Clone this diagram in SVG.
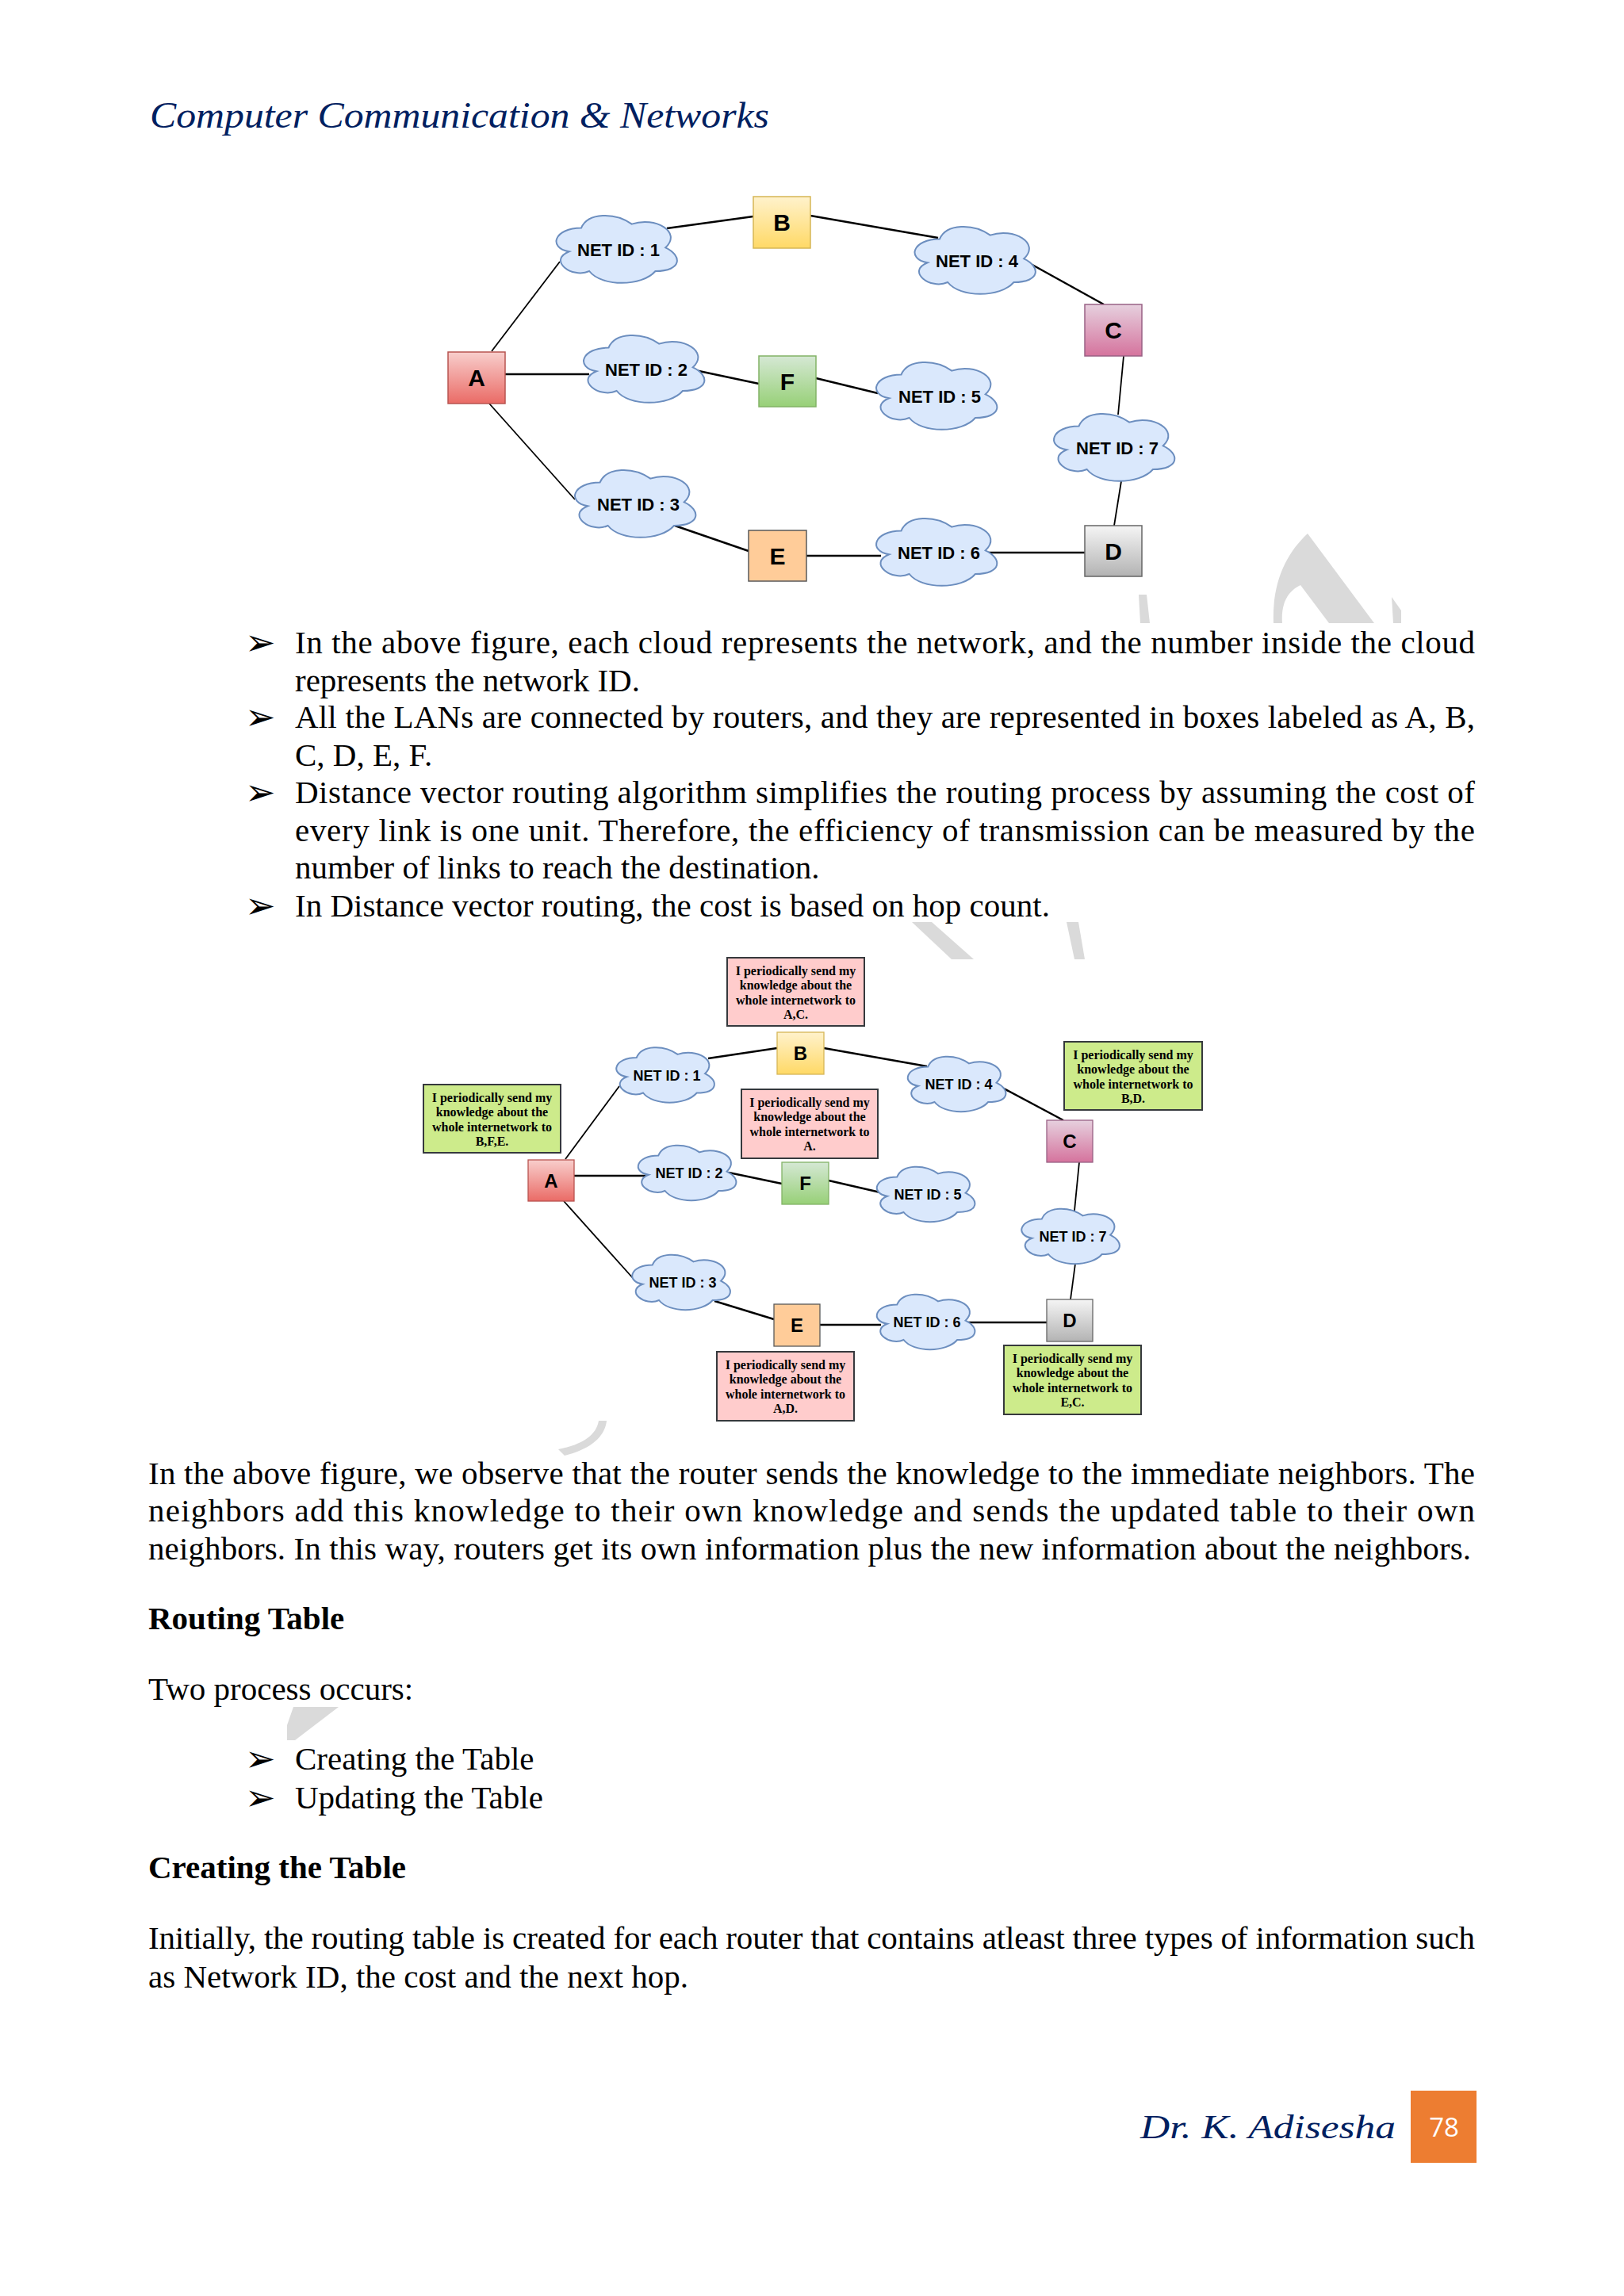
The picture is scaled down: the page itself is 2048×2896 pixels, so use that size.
<svg xmlns="http://www.w3.org/2000/svg" xmlns:xlink="http://www.w3.org/1999/xlink" width="2048" height="2896" viewBox="0 0 2048 2896">
<defs>
<linearGradient id="gA" x1="0" y1="0" x2="0" y2="1"><stop offset="0" stop-color="#f8cecc"/><stop offset="1" stop-color="#ea6b66"/></linearGradient>
<linearGradient id="gB" x1="0" y1="0" x2="0" y2="1"><stop offset="0" stop-color="#fff2cc"/><stop offset="1" stop-color="#ffd966"/></linearGradient>
<linearGradient id="gC" x1="0" y1="0" x2="0" y2="1"><stop offset="0" stop-color="#e6d0de"/><stop offset="1" stop-color="#d5739d"/></linearGradient>
<linearGradient id="gD" x1="0" y1="0" x2="0" y2="1"><stop offset="0" stop-color="#f5f5f5"/><stop offset="1" stop-color="#b3b3b3"/></linearGradient>
<linearGradient id="gF" x1="0" y1="0" x2="0" y2="1"><stop offset="0" stop-color="#d5e8d4"/><stop offset="1" stop-color="#97d077"/></linearGradient>
<path id="cloud" vector-effect="non-scaling-stroke" d="M25,25 C5,25 0,50 16,55 C0,66 18,90 31,80 C40,100 70,100 80,80 C100,80 100,60 87.5,50 C100,30 80,10 62.5,20 C50,5 30,5 25,25 Z"/>
<style>
.body{font-family:"Liberation Serif","Times New Roman",serif;font-size:41px;fill:#000}
.bold{font-weight:bold}
.bul{font-family:"DejaVu Sans",sans-serif;font-size:46px;fill:#000}
.head{font-family:"Liberation Serif",serif;font-style:italic;fill:#002060}
.cl{fill:#dae8fc;stroke:#6c8ebf;stroke-width:2}
.cl1{font-family:"Liberation Sans",Arial,sans-serif;font-weight:bold;font-size:22px;fill:#000;text-anchor:middle}
.cl2{font-family:"Liberation Sans",Arial,sans-serif;font-weight:bold;font-size:18px;fill:#000;text-anchor:middle}
.bx1{font-family:"Liberation Sans",Arial,sans-serif;font-weight:bold;font-size:30px;fill:#000;text-anchor:middle}
.bx2{font-family:"Liberation Sans",Arial,sans-serif;font-weight:bold;font-size:24px;fill:#000;text-anchor:middle}
.edge{stroke:#000;stroke-width:2.5;fill:none}
.thin{stroke-width:1.8}
.note{font-family:"Liberation Serif","Times New Roman",serif;font-weight:bold;font-size:16px;fill:#000;text-anchor:middle}
.np{fill:#ffcccc;stroke:#36393d;stroke-width:2}
.ng{fill:#cdeb8b;stroke:#36393d;stroke-width:2}
.wm{fill:#dadada}
</style>
</defs>
<rect width="2048" height="2896" fill="#ffffff"/>

<g id="watermark" class="wm">
<path fill-rule="evenodd" d="M1606,786 C1604,735 1622,698 1649,673 L1733,786 Z M1617,786 C1615,760 1625,745 1640,738 L1676,786 Z"/>
<path d="M1755,753 L1767,770 L1767,786 L1757,786 Z"/>
<path d="M1436,750 L1446,750 L1450,786 L1438,786 Z"/>
<path d="M1150,1163 L1175,1163 L1228,1210 L1200,1210 Z"/>
<path d="M1345,1163 L1360,1163 L1368,1210 L1355,1210 Z"/>
<path d="M755,1792 L765,1792 C763,1812 745,1828 712,1836 L704,1828 C735,1822 752,1810 755,1792 Z"/>
<path d="M370,2153 L427,2153 L372,2195 L362,2195 L362,2176 Z"/>
</g>

<g id="header">
<text class="head" x="189" y="161" font-size="46" textLength="781" lengthAdjust="spacingAndGlyphs">Computer Communication &amp; Networks</text>
</g>

<!-- Diagram 1 -->
<g id="connectors1">
<line class="edge thin" x1="620" y1="443" x2="706" y2="330"/>
<line class="edge" x1="841" y1="288" x2="950" y2="273"/>
<line class="edge" x1="1022" y1="272" x2="1183" y2="300"/>
<line class="edge" x1="1300" y1="333" x2="1392" y2="384"/>
<line class="edge" x1="637" y1="472" x2="743" y2="472"/>
<line class="edge" x1="872" y1="466" x2="957" y2="484"/>
<line class="edge" x1="1029" y1="477" x2="1107" y2="496"/>
<line class="edge thin" x1="1417" y1="449" x2="1410" y2="523"/>
<line class="edge thin" x1="1414" y1="607" x2="1405" y2="663"/>
<line class="edge thin" x1="617" y1="509" x2="725" y2="630"/>
<line class="edge" x1="851" y1="663" x2="944" y2="695"/>
<line class="edge" x1="1017" y1="701" x2="1111" y2="701"/>
<line class="edge" x1="1245" y1="697" x2="1368" y2="697"/>
</g>

<g id="d1-net1"><use class="cl" xlink:href="#cloud" transform="translate(690.5,262.8) scale(1.70,0.99)"/><text class="cl1" x="780" y="322.5">NET ID : 1</text></g>
<g id="d1-net4"><use class="cl" xlink:href="#cloud" transform="translate(1142.5,276.8) scale(1.70,0.99)"/><text class="cl1" x="1232" y="336.5">NET ID : 4</text></g>
<g id="d1-net2"><use class="cl" xlink:href="#cloud" transform="translate(725,413.8) scale(1.70,0.99)"/><text class="cl1" x="815" y="473.5">NET ID : 2</text></g>
<g id="d1-net5"><use class="cl" xlink:href="#cloud" transform="translate(1094,447.8) scale(1.70,0.99)"/><text class="cl1" x="1185" y="507.5">NET ID : 5</text></g>
<g id="d1-net7"><use class="cl" xlink:href="#cloud" transform="translate(1318,512.8) scale(1.70,0.99)"/><text class="cl1" x="1409" y="572.5">NET ID : 7</text></g>
<g id="d1-net3"><use class="cl" xlink:href="#cloud" transform="translate(714,583.8) scale(1.70,0.99)"/><text class="cl1" x="805" y="643.5">NET ID : 3</text></g>
<g id="d1-net6"><use class="cl" xlink:href="#cloud" transform="translate(1094,644.8) scale(1.70,0.99)"/><text class="cl1" x="1184" y="704.5">NET ID : 6</text></g>

<g id="d1-A"><rect x="565" y="444" width="72" height="65" fill="url(#gA)" stroke="#b85450" stroke-width="1.5"/><text class="bx1" x="601" y="487">A</text></g>
<g id="d1-B"><rect x="950" y="248" width="72" height="65" fill="url(#gB)" stroke="#d6b656" stroke-width="1.5"/><text class="bx1" x="986" y="291">B</text></g>
<g id="d1-C"><rect x="1368" y="384" width="72" height="65" fill="url(#gC)" stroke="#996185" stroke-width="1.5"/><text class="bx1" x="1404" y="427">C</text></g>
<g id="d1-D"><rect x="1368" y="663" width="72" height="64" fill="url(#gD)" stroke="#666666" stroke-width="1.5"/><text class="bx1" x="1404" y="706">D</text></g>
<g id="d1-E"><rect x="944" y="669" width="73" height="64" fill="#ffcc99" stroke="#5a5a5a" stroke-width="1.5"/><text class="bx1" x="980.5" y="712">E</text></g>
<g id="d1-F"><rect x="957" y="449" width="72" height="64" fill="url(#gF)" stroke="#82b366" stroke-width="1.5"/><text class="bx1" x="993" y="492">F</text></g>

<!-- Bullets -->
<g id="bullets1">
<text class="bul" x="309" y="826">➢</text>
<text class="body" x="372" y="824" textLength="1488" lengthAdjust="spacing">In the above figure, each cloud represents the network, and the number inside the cloud</text>
<text class="body" x="372" y="872">represents the network ID.</text>
<text class="bul" x="309" y="920">➢</text>
<text class="body" x="372" y="918" textLength="1488" lengthAdjust="spacing">All the LANs are connected by routers, and they are represented in boxes labeled as A, B,</text>
<text class="body" x="372" y="966">C, D, E, F.</text>
<text class="bul" x="309" y="1015">➢</text>
<text class="body" x="372" y="1013" textLength="1488" lengthAdjust="spacing">Distance vector routing algorithm simplifies the routing process by assuming the cost of</text>
<text class="body" x="372" y="1061" textLength="1488" lengthAdjust="spacing">every link is one unit. Therefore, the efficiency of transmission can be measured by the</text>
<text class="body" x="372" y="1108">number of links to reach the destination.</text>
<text class="bul" x="309" y="1158">➢</text>
<text class="body" x="372" y="1156">In Distance vector routing, the cost is based on hop count.</text>
</g>

<!-- Diagram 2 -->
<g id="connectors2">
<line class="edge thin" x1="713" y1="1462" x2="781" y2="1370"/>
<line class="edge" x1="893" y1="1335" x2="980" y2="1322"/>
<line class="edge" x1="1039" y1="1322" x2="1169" y2="1345"/>
<line class="edge" x1="1264" y1="1372" x2="1341" y2="1413"/>
<line class="edge" x1="724" y1="1483" x2="814" y2="1483"/>
<line class="edge" x1="919" y1="1479" x2="986" y2="1493"/>
<line class="edge" x1="1045" y1="1489" x2="1110" y2="1504"/>
<line class="edge thin" x1="1361" y1="1466" x2="1355" y2="1527"/>
<line class="edge thin" x1="1356" y1="1594" x2="1350" y2="1639"/>
<line class="edge thin" x1="711" y1="1515" x2="798" y2="1612"/>
<line class="edge" x1="901" y1="1641" x2="976" y2="1664"/>
<line class="edge" x1="1034" y1="1671" x2="1111" y2="1671"/>
<line class="edge" x1="1221" y1="1668" x2="1320" y2="1668"/>
</g>

<g id="d2-net1"><use class="cl" xlink:href="#cloud" transform="translate(768.3,1313.7) scale(1.38,0.81)"/><text class="cl2" x="841" y="1362.5">NET ID : 1</text></g>
<g id="d2-net4"><use class="cl" xlink:href="#cloud" transform="translate(1135.8,1325.2) scale(1.38,0.81)"/><text class="cl2" x="1209" y="1374">NET ID : 4</text></g>
<g id="d2-net2"><use class="cl" xlink:href="#cloud" transform="translate(795.8,1437.2) scale(1.38,0.81)"/><text class="cl2" x="869" y="1486">NET ID : 2</text></g>
<g id="d2-net5"><use class="cl" xlink:href="#cloud" transform="translate(1096.8,1464.2) scale(1.38,0.81)"/><text class="cl2" x="1170" y="1513">NET ID : 5</text></g>
<g id="d2-net7"><use class="cl" xlink:href="#cloud" transform="translate(1279.3,1517.2) scale(1.38,0.81)"/><text class="cl2" x="1353" y="1566">NET ID : 7</text></g>
<g id="d2-net3"><use class="cl" xlink:href="#cloud" transform="translate(788.3,1575.2) scale(1.38,0.81)"/><text class="cl2" x="861" y="1624">NET ID : 3</text></g>
<g id="d2-net6"><use class="cl" xlink:href="#cloud" transform="translate(1096.8,1625.2) scale(1.38,0.81)"/><text class="cl2" x="1169" y="1674">NET ID : 6</text></g>

<g id="d2-A"><rect x="666" y="1463" width="58" height="52" fill="url(#gA)" stroke="#b85450" stroke-width="1.3"/><text class="bx2" x="695" y="1497.5">A</text></g>
<g id="d2-B"><rect x="980" y="1302" width="59" height="53" fill="url(#gB)" stroke="#d6b656" stroke-width="1.3"/><text class="bx2" x="1009.5" y="1337">B</text></g>
<g id="d2-C"><rect x="1320" y="1413" width="58" height="53" fill="url(#gC)" stroke="#996185" stroke-width="1.3"/><text class="bx2" x="1349" y="1448">C</text></g>
<g id="d2-D"><rect x="1320" y="1639" width="58" height="53" fill="url(#gD)" stroke="#666666" stroke-width="1.3"/><text class="bx2" x="1349" y="1674">D</text></g>
<g id="d2-E"><rect x="976" y="1645" width="58" height="53" fill="#ffcc99" stroke="#5a5a5a" stroke-width="1.3"/><text class="bx2" x="1005" y="1680">E</text></g>
<g id="d2-F"><rect x="986" y="1466" width="59" height="53" fill="url(#gF)" stroke="#82b366" stroke-width="1.3"/><text class="bx2" x="1015.5" y="1501">F</text></g>

<g id="note-B"><rect class="np" x="917" y="1208" width="173" height="86"/><text class="note" x="1003.5" y="1230">I periodically send my</text><text class="note" x="1003.5" y="1248.4">knowledge about the</text><text class="note" x="1003.5" y="1266.8">whole internetwork to</text><text class="note" x="1003.5" y="1285.2">A,C.</text></g>
<g id="note-F"><rect class="np" x="935" y="1374" width="172" height="87"/><text class="note" x="1021" y="1396">I periodically send my</text><text class="note" x="1021" y="1414.4">knowledge about the</text><text class="note" x="1021" y="1432.8">whole internetwork to</text><text class="note" x="1021" y="1451.2">A.</text></g>
<g id="note-A"><rect class="ng" x="534" y="1368" width="173" height="86"/><text class="note" x="620.5" y="1390">I periodically send my</text><text class="note" x="620.5" y="1408.4">knowledge about the</text><text class="note" x="620.5" y="1426.8">whole internetwork to</text><text class="note" x="620.5" y="1445.2">B,F,E.</text></g>
<g id="note-C"><rect class="ng" x="1342" y="1314" width="174" height="86"/><text class="note" x="1429" y="1336">I periodically send my</text><text class="note" x="1429" y="1354.4">knowledge about the</text><text class="note" x="1429" y="1372.8">whole internetwork to</text><text class="note" x="1429" y="1391.2">B,D.</text></g>
<g id="note-E"><rect class="np" x="904" y="1705" width="173" height="87"/><text class="note" x="990.5" y="1727">I periodically send my</text><text class="note" x="990.5" y="1745.4">knowledge about the</text><text class="note" x="990.5" y="1763.8">whole internetwork to</text><text class="note" x="990.5" y="1782.2">A,D.</text></g>
<g id="note-D"><rect class="ng" x="1266" y="1697" width="173" height="87"/><text class="note" x="1352.5" y="1719">I periodically send my</text><text class="note" x="1352.5" y="1737.4">knowledge about the</text><text class="note" x="1352.5" y="1755.8">whole internetwork to</text><text class="note" x="1352.5" y="1774.2">E,C.</text></g>

<g id="text2">
<text class="body" x="187" y="1872" textLength="1673" lengthAdjust="spacing">In the above figure, we observe that the router sends the knowledge to the immediate neighbors. The</text>
<text class="body" x="187" y="1919" textLength="1673" lengthAdjust="spacing">neighbors add this knowledge to their own knowledge and sends the updated table to their own</text>
<text class="body" x="187" y="1967" textLength="1668" lengthAdjust="spacing">neighbors. In this way, routers get its own information plus the new information about the neighbors.</text>
<text class="body bold" x="187" y="2055">Routing Table</text>
<text class="body" x="187" y="2144">Two process occurs:</text>
<text class="bul" x="309" y="2234">➢</text>
<text class="body" x="372" y="2232">Creating the Table</text>
<text class="bul" x="309" y="2283">➢</text>
<text class="body" x="372" y="2281">Updating the Table</text>
<text class="body bold" x="187" y="2369">Creating the Table</text>
<text class="body" x="187" y="2458" textLength="1673" lengthAdjust="spacing">Initially, the routing table is created for each router that contains atleast three types of information such</text>
<text class="body" x="187" y="2507">as Network ID, the cost and the next hop.</text>
</g>

<g id="footer">
<text class="head" x="1438" y="2697" font-size="42" textLength="322" lengthAdjust="spacingAndGlyphs">Dr. K. Adisesha</text>
<rect x="1779" y="2637" width="83" height="91" fill="#ed7d31"/>
<text x="1821" y="2695" font-family="'Open Sans','Liberation Sans',sans-serif" font-size="33" fill="#ffffff" text-anchor="middle">78</text>
</g>
</svg>
